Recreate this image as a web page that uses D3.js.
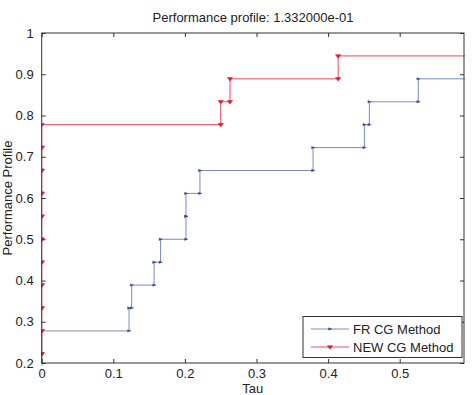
<!DOCTYPE html>
<html>
<head>
<meta charset="utf-8">
<script src="https://cdn.jsdelivr.net/npm/d3@7"></script>
<style>
  html, body { margin: 0; padding: 0; background: #fff; }
  svg { display: block; }
  text { font-family: "Liberation Sans", Arial, sans-serif; fill: #222; }
</style>
</head>
<body>
<svg id="chart" width="474" height="395"></svg>
<script>
// ---- data ----
const titleText = "Performance profile: 1.332000e-01";
const xLabel = "Tau";
const yLabel = "Performance Profile";
const seriesNames = ["FR CG Method", "NEW CG Method"];

// FR CG Method: sorted tau values and cumulative profile values
const frTau = [0, 0, 0, 0, 0, 0.122, 0.1257, 0.157, 0.166, 0.2015, 0.2015, 0.221, 0.379, 0.4507, 0.4576, 0.526];
const frProfile = [0.0556, 0.1111, 0.1667, 0.2222, 0.2778, 0.3333, 0.3889, 0.4444, 0.5, 0.5556, 0.6111, 0.6667, 0.7222, 0.7778, 0.8333, 0.8889];

// NEW CG Method
const newTau = [0, 0, 0, 0, 0, 0, 0, 0, 0, 0, 0, 0, 0, 0, 0.250, 0.263, 0.414];
const newProfile = [0.0556, 0.1111, 0.1667, 0.2222, 0.2778, 0.3333, 0.3889, 0.4444, 0.5, 0.5556, 0.6111, 0.6667, 0.7222, 0.7778, 0.8333, 0.8889, 0.9444];

const xTicks = [0, 0.1, 0.2, 0.3, 0.4, 0.5];
const xTickLabels = ["0", "0.1", "0.2", "0.3", "0.4", "0.5"];
const yTicks = [0.2, 0.3, 0.4, 0.5, 0.6, 0.7, 0.8, 0.9, 1];
const yTickLabels = ["0.2", "0.3", "0.4", "0.5", "0.6", "0.7", "0.8", "0.9", "1"];
const xDomain = [0, 0.5898];
const yDomain = [0.2, 1];

// ---- layout ----
const svg = d3.select("#chart");
const L = 41.7, R = 464, T = 33, B = 363;
const x = d3.scaleLinear().domain(xDomain).range([L, R]);
const y = d3.scaleLinear().domain(yDomain).range([B, T]);

const blue = "#7a8ac6", blueMk = "#3c4a94";
const red = "#ee4a60", redMk = "#e01e3c";

svg.append("defs").append("clipPath").attr("id", "clip")
  .append("rect").attr("x", L).attr("y", T - 3).attr("width", R - L + 1).attr("height", B - T + 6);

// title
svg.append("text").attr("x", 253).attr("y", 22).attr("text-anchor", "middle")
  .style("font-size", "13px").text(titleText);

// stairs vertices
function stairs(tau, prof) {
  const pts = [];
  for (let i = 0; i < tau.length; i++) {
    pts.push({ x: tau[i], y: prof[i], mk: true });
    if (i + 1 < tau.length) pts.push({ x: tau[i + 1], y: prof[i], mk: true });
  }
  pts.push({ x: xDomain[1] + 0.05, y: prof[prof.length - 1], mk: false });
  return pts;
}
const frPts = stairs(frTau, frProfile);
const newPts = stairs(newTau, newProfile);

const line = d3.line().x(d => x(d.x)).y(d => y(d.y));
const g = svg.append("g").attr("clip-path", "url(#clip)");

function drawSeries(pts, col, mkCol, shape) {
  g.append("path").datum(pts).attr("d", line)
    .attr("fill", "none").attr("stroke", col).attr("stroke-width", 1);
  const mk = g.selectAll(null).data(pts.filter(d => d.mk && d.y >= yDomain[0] - 0.001)).enter();
  if (shape === "tri") {
    mk.append("path")
      .attr("d", d => { const cx = x(d.x), cy = y(d.y); return `M${cx-2.6},${cy-1.3}L${cx+2.6},${cy-1.3}L${cx},${cy+2.2}Z`; })
      .attr("fill", mkCol).attr("stroke", mkCol).attr("stroke-width", 0.6);
  } else {
    mk.append("path")
      .attr("d", d => { const cx = x(d.x), cy = y(d.y); return `M${cx-1.5},${cy-1.2}L${cx+2},${cy}L${cx-1.5},${cy+1.2}Z`; })
      .attr("fill", mkCol).attr("stroke", mkCol).attr("stroke-width", 0.4);
  }
}
drawSeries(frPts, blue, blueMk, "dash");
drawSeries(newPts, red, redMk, "tri");

// axes box
const ax = svg.append("g");
ax.append("rect").attr("x", L).attr("y", T).attr("width", R - L).attr("height", B - T)
  .attr("fill", "none").attr("stroke", "#333").attr("stroke-width", 1);

const xAxis = d3.axisBottom(x).tickValues(xTicks).tickFormat((d, i) => xTickLabels[i]).tickSizeInner(-4).tickSizeOuter(0).tickPadding(6);
const gx = svg.append("g").attr("transform", `translate(0,${B})`).call(xAxis);
gx.select(".domain").remove();
gx.selectAll("line").attr("stroke", "#333");
gx.selectAll("text").style("font-size", "13px").style("font-family", "Liberation Sans, Arial, sans-serif").attr("fill", "#222");

const xTop = d3.axisTop(x).tickValues(xTicks).tickFormat("").tickSizeInner(-4).tickSizeOuter(0);
const gxt = svg.append("g").attr("transform", `translate(0,${T})`).call(xTop);
gxt.select(".domain").remove();
gxt.selectAll("line").attr("stroke", "#333");

const yAxis = d3.axisLeft(y).tickValues(yTicks).tickFormat((d, i) => yTickLabels[i]).tickSizeInner(-4).tickSizeOuter(0).tickPadding(8);
const gy = svg.append("g").attr("transform", `translate(${L},0)`).call(yAxis);
gy.select(".domain").remove();
gy.selectAll("line").attr("stroke", "#333");
gy.selectAll("text").style("font-size", "13px").style("font-family", "Liberation Sans, Arial, sans-serif").attr("fill", "#222");

const yRight = d3.axisRight(y).tickValues(yTicks).tickFormat("").tickSizeInner(-4).tickSizeOuter(0);
const gyr = svg.append("g").attr("transform", `translate(${R},0)`).call(yRight);
gyr.select(".domain").remove();
gyr.selectAll("line").attr("stroke", "#333");

// axis labels
svg.append("text").attr("x", (L + R) / 2).attr("y", 393).attr("text-anchor", "middle")
  .style("font-size", "13px").text(xLabel);
svg.append("text").attr("transform", `translate(12,${(T + B) / 2}) rotate(-90)`).attr("text-anchor", "middle")
  .style("font-size", "13px").text(yLabel);

// legend
const lg = svg.append("g");
lg.append("rect").attr("x", 303).attr("y", 316.5).attr("width", 159).attr("height", 41)
  .attr("fill", "#fff").attr("stroke", "#333").attr("stroke-width", 1);
const legendItems = [
  { name: seriesNames[0], col: blue, mk: blueMk, shape: "dash", yy: 329 },
  { name: seriesNames[1], col: red, mk: redMk, shape: "tri", yy: 347 }
];
legendItems.forEach(it => {
  lg.append("line").attr("x1", 311).attr("x2", 349).attr("y1", it.yy).attr("y2", it.yy)
    .attr("stroke", it.col).attr("stroke-width", 1);
  const cx = 330, cy = it.yy;
  if (it.shape === "tri") {
    lg.append("path").attr("d", `M${cx-2.6},${cy-1.3}L${cx+2.6},${cy-1.3}L${cx},${cy+2.2}Z`).attr("fill", it.mk).attr("stroke", it.mk).attr("stroke-width", 0.6);
  } else {
    lg.append("path").attr("d", `M${cx-1.5},${cy-1.2}L${cx+2},${cy}L${cx-1.5},${cy+1.2}Z`).attr("fill", it.mk).attr("stroke", it.mk).attr("stroke-width", 0.4);
  }
  lg.append("text").attr("x", 353).attr("y", it.yy + 4.5).style("font-size", "13px").text(it.name);
});
</script>
</body>
</html>
